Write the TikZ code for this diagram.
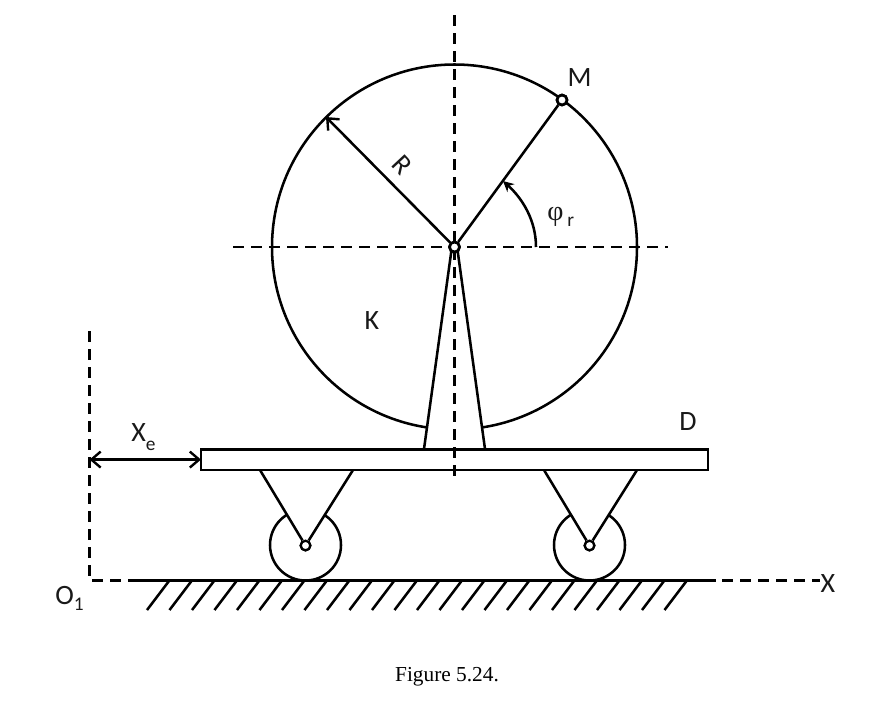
\documentclass[tikz,border=0pt]{standalone}
\usepackage{fontspec}
\setmainfont{Carlito}
\newfontfamily\capfont{Liberation Serif}
\usetikzlibrary{arrows.meta}
\newcommand{\lowtext}[2]{\raisebox{#1}{\fontsize{14.5}{16}\selectfont #2}}
\tikzset{
  line/.style={line width=1.9pt,black},
  dashline/.style={line width=1.9pt,black,dash pattern=on 8.3pt off 5.2pt},
  pin/.style={circle,draw=black,fill=white,line width=2pt,minimum size=7.5pt,inner sep=0pt},
  smallpin/.style={circle,draw=black,fill=white,line width=1.7pt,minimum size=7.2pt,inner sep=0pt},
  lab/.style={font=\fontsize{21}{24}\selectfont,inner sep=0pt,text=black!90},
  barb/.tip={Straight Barb[length=7pt,width=12pt,line width=1.8pt]},
  arr/.style={-barb},
  solidarr/.style={-{Stealth[length=8pt,width=8pt]}},
}
\begin{document}
\begin{tikzpicture}[x=0.75pt,y=-0.75pt]
\useasboundingbox (0,0) rectangle (880,700);
% disc
\draw[line,fill=white] (454.5,247) circle (182.5);
% axes
\coordinate (hl) at (233,247);
\coordinate (hr) at (668,247);
\coordinate (vt) at (454.5,15);
\coordinate (vb) at (454.5,480);
\draw[dashline] (hl) -- (hr);
% post
\coordinate (pa) at (424,449);
\coordinate (pb) at (485,449);
\coordinate (pc) at (451.5,250);
\coordinate (pd) at (457.5,250);
\draw[line,fill=white] (pa) -- (pc) -- (pd) -- (pb);
% wheels
\draw[line] (305.5,545) circle (35.5);
\draw[line] (589.5,545) circle (35.5);
\node[smallpin] (w1) at (305.5,545.5) {};
\node[smallpin] (w2) at (589.5,545.5) {};
\coordinate (t1a) at (260,470);
\coordinate (t1b) at (353,470);
\coordinate (t2a) at (544,470);
\coordinate (t2b) at (637,470);
\fill[white] (t1a) -- (w1.center) -- (t1b) -- cycle;
\fill[white] (t2a) -- (w2.center) -- (t2b) -- cycle;
\draw[line] (t1a) -- (w1);
\draw[line] (t1b) -- (w1);
\draw[line] (t2a) -- (w2);
\draw[line] (t2b) -- (w2);
\node[smallpin] at (305.5,545.5) {};
\node[smallpin] at (589.5,545.5) {};
% platform
\node[line,draw,fill=white,outer sep=0pt,minimum width=380.2pt,minimum height=15.4pt,inner sep=0pt,anchor=north west] (plat) at (201,449.3) {};
\draw[dashline] (vt) -- (vb);
% ground
\coordinate (o1) at (89.5,580.5);
\coordinate (xe) at (820,580.5);
\coordinate (ytop) at (89.5,331);
\draw[line] (128,580.5) -- (716,580.5);
\draw[dashline] (ytop) -- (o1) -- (xe);
\foreach \i in {0,...,23}{
  \draw[line] ({147+22.5*\i},610) -- ({169+22.5*\i},581);
}
% Xe arrow
\coordinate (xa) at (89.5,459.5);
\draw[line,barb-barb] (xa |- plat.west) -- (plat.west);
% centre, radii
\node[pin] (O) at (454.5,247) {};
\node[pin] (M) at (562,100) {};
\coordinate (Rend) at (326,117);
\draw[line] (O) -- (M);
\draw[line,arr] (O) -- (Rend);
% redraw pins so their rings stay on top
\node[pin] at (454.5,247) {};
\node[pin] at (562,100) {};
% angle
\coordinate (aS) at (536,247);
\coordinate (aE) at (503,181);
\draw[line,solidarr] (aS) .. controls (536,221) and (523,199) .. (aE);
% labels
\node[lab] (lM) at (579.5,78) {M};
\node[lab,rotate=-47] (lR) at (402,165) {R};
\node[lab] (lK) at (372,321) {K};
\node[lab] (lD) at (688,422) {D};
\node[lab,anchor=base west] (lO) at (55,604) {O\lowtext{-5pt}{1}};
\node[lab] (lX) at (828,584) {X};
\node[lab,anchor=base west] (lXe) at (131,441) {X\lowtext{-7pt}{e}};
\node[lab,anchor=base west] (lphi) at (547,220) {\capfont φ\kern3pt\lowtext{-5pt}{\fontspec{Carlito}r}};
\node[font=\capfont\fontsize{16}{18}\selectfont,inner sep=0pt,anchor=base] (cap) at (447,681) {Figure 5.24.};
\end{tikzpicture}
\end{document}
